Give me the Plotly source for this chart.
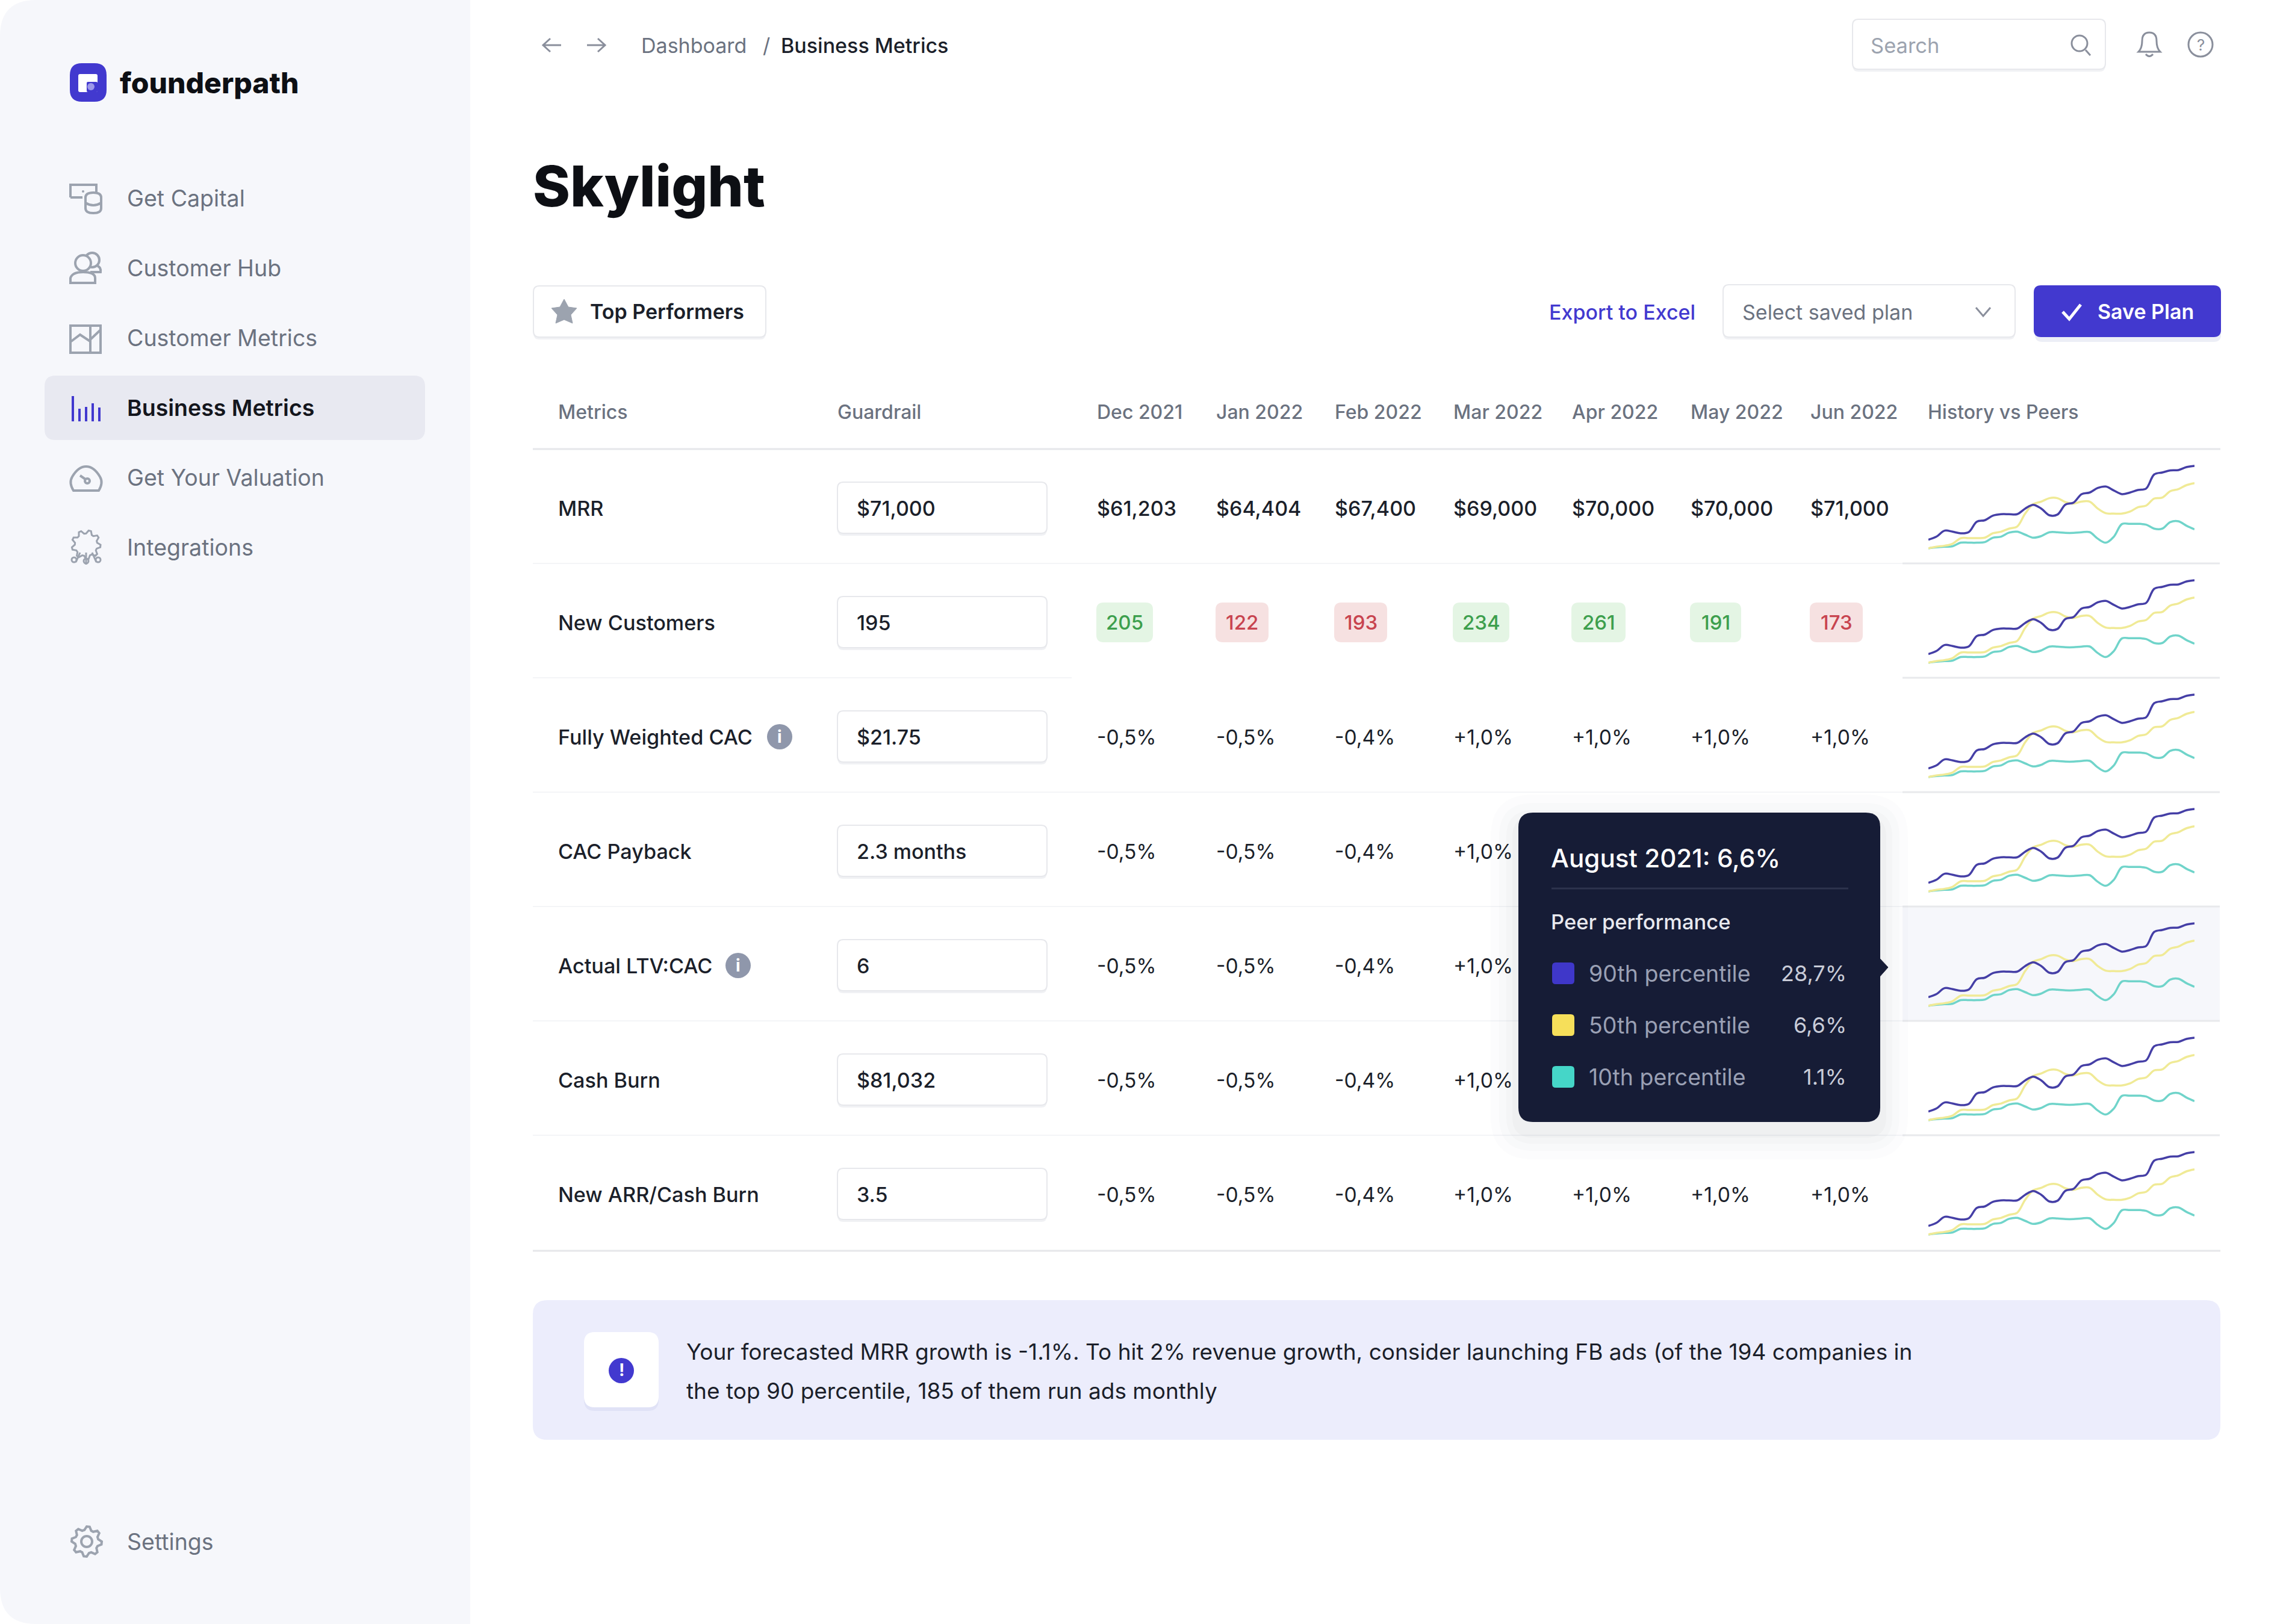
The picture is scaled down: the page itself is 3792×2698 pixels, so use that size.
"""Founderpath "Skylight" business metrics screen, drawn as a single Plotly figure."""

import numpy as np
import plotly.graph_objects as go

WIDTH, HEIGHT = 3792, 2698
FONT = "Inter"

INK = "#1b1f2a"
GREY = "#6b7280"
ICON = "#9ca3af"
INDIGO = "#4239cf"

NAV_ITEMS = ["Get Capital", "Customer Hub", "Customer Metrics", "Business Metrics",
             "Get Your Valuation", "Integrations"]
MONTHS = ["Dec 2021", "Jan 2022", "Feb 2022", "Mar 2022", "Apr 2022", "May 2022", "Jun 2022"]
METRICS = ["MRR", "New Customers", "Fully Weighted CAC", "CAC Payback",
           "Actual LTV:CAC", "Cash Burn", "New ARR/Cash Burn"]
GUARDRAILS = ["$71,000", "195", "$21.75", "2.3 months", "6", "$81,032", "3.5"]
MRR_VALUES = ["$61,203", "$64,404", "$67,400", "$69,000", "$70,000", "$70,000", "$71,000"]
NEW_CUSTOMERS = [205, 122, 193, 234, 261, 191, 173]
NEW_CUSTOMERS_OK = [True, False, False, True, True, True, False]
CHANGES = ["-0,5%", "-0,5%", "-0,4%", "+1,0%", "+1,0%", "+1,0%", "+1,0%"]

# the same sparkline is repeated on every row
P90 = [12.5, 16.3, 23.8, 22.5, 20.5, 22, 35, 36.8, 42.5, 44.3, 44.3, 44.3, 51.3, 56, 51.3, 43, 43.8,
       56.3, 58.8, 69.3, 71.3, 77, 78.8, 73.8, 69.3, 71.3, 74.5, 76.3, 93.8, 96.3, 98.8, 99.3, 103, 104.5]
P50 = [1.8, 3.8, 5, 7.5, 14.3, 14.5, 14.5, 15, 20.5, 22.5, 26.3, 28.8, 45, 56.8, 60, 64.3, 64.3,
       59.3, 57.5, 60, 60, 51.3, 45.5, 45, 45, 47.5, 53, 55, 63.8, 65, 73, 75.5, 80.5, 83]
P10 = [1.8, 3, 3.8, 4.3, 8.8, 8.8, 8.8, 9.5, 15, 16.3, 21.3, 22.5, 18.8, 15, 17, 21.8, 21.8,
       21, 21, 21.8, 22, 13.8, 8.8, 16.3, 32, 32.3, 32.3, 31.3, 26.3, 26.3, 34.5, 35.5, 30, 25.5]

PEER_LABELS = ["90th percentile", "50th percentile", "10th percentile"]
PEER_VALUES = ["28,7%", "6,6%", "1.1%"]
PEER_COLORS = ["#3f37c9", "#f6df5a", "#45d6c8"]
LINE_COLORS = ["#453fa6", "#f0ea96", "#70d4ca"]

NOTE_LINES = [
    "Your forecasted MRR growth is -1.1%. To hit 2% revenue growth, consider launching FB ads (of the 194 companies in",
    "the top 90 percentile, 185 of them run ads monthly",
]

COL_X = [1821, 2019, 2216, 2413, 2610, 2807, 3006]
BADGE_W = [94, 88, 88, 94, 90, 85, 88]
ROW_H = 190
ROW_Y = [844 + ROW_H * i for i in range(7)]
TABLE_L, TABLE_R = 885, 3688
SPARK_L, SPARK_R = 3203, 3645

shapes = []
notes = []


def rr_path(x0, y0, x1, y1, r):
    return (f"M{x0+r},{y0} L{x1-r},{y0} Q{x1},{y0} {x1},{y0+r} L{x1},{y1-r} Q{x1},{y1} {x1-r},{y1} "
            f"L{x0+r},{y1} Q{x0},{y1} {x0},{y1-r} L{x0},{y0+r} Q{x0},{y0} {x0+r},{y0} Z")


def box(x0, y0, x1, y1, r=0, fill="white", line=None, lw=2):
    shapes.append(dict(type="path", path=rr_path(x0, y0, x1, y1, r), fillcolor=fill, layer="below",
                       line=dict(color=line or "rgba(0,0,0,0)", width=lw if line else 0)))


def stroke(path, color=ICON, w=4, fill="rgba(0,0,0,0)"):
    shapes.append(dict(type="path", path=path, fillcolor=fill, layer="below", line=dict(color=color, width=w)))


def dot(cx, cy, r, fill="rgba(0,0,0,0)", line=None, lw=4):
    shapes.append(dict(type="circle", x0=cx - r, x1=cx + r, y0=cy - r, y1=cy + r, fillcolor=fill, layer="below",
                       line=dict(color=line or "rgba(0,0,0,0)", width=lw if line else 0)))


def hline(x0, x1, y, color, w=2):
    shapes.append(dict(type="line", x0=x0, x1=x1, y0=y, y1=y, layer="below", line=dict(color=color, width=w)))


def label(x, y, text, size=34, color=INK, weight=400, anchor="left"):
    notes.append(dict(x=x, y=y, xref="x", yref="y", text=text, showarrow=False, xanchor=anchor, yanchor="middle",
                      borderpad=0, font=dict(family=FONT, size=size, color=color, weight=weight)))


def input_box(x0, y0, x1, y1):
    box(x0, y0 + 4, x1, y1 + 4, 10, "#f0f1f4")
    box(x0, y0, x1, y1, 10, "white", "#e7e8ec", 2)


def gear(cx, cy, r, teeth=8):
    angles = np.linspace(0, 2 * np.pi, teeth * 4, endpoint=False)
    radii = np.tile([r, r, r * 0.78, r * 0.78], teeth)
    pts = [f"{cx + a * np.cos(t):.1f},{cy + a * np.sin(t):.1f}" for a, t in zip(radii, angles)]
    return "M" + " L".join(pts) + " Z"


# page and sidebar
side = "M60,0 L781,0 L781,2698 L60,2698 Q0,2698 0,2638 L0,60 Q0,0 60,0 Z"
shapes.append(dict(type="path", path=side, fillcolor="#f6f7fb", layer="below", line=dict(width=0)))

box(116, 105, 177, 169, 20, INDIGO)
box(130, 123, 162, 153, 3, "white")
box(144, 136, 162, 153, 2, INDIGO)
dot(151, 144, 6, "#9d98ea")
label(198, 137, "founderpath", 48, "#0d0f14", 800)

box(74, 624, 706, 731, 18, "#e8e9f1")
for name, y in zip(NAV_ITEMS, [329, 445, 561, 677, 793, 909]):
    active = name == "Business Metrics"
    label(210, y, name, 37.5, "#14161d" if active else GREY, 600 if active else 400)
label(210, 2561, "Settings", 37.5, GREY)

# sidebar icons
stroke("M117,328 L117,307 L160,307 L160,320 M117,328 L137,328")
dot(138, 318, 2, ICON)
stroke("M142,328 Q142,320 155,320 Q168,320 168,328 L168,346 Q168,354 155,354 Q142,354 142,346 Z M142,337 Q155,345 168,337")
dot(153, 432, 12, line=ICON)
stroke("M150,452 L167,452 Q168,444 162,442", w=4)
dot(138, 437, 13, "#f6f7fb", ICON)
stroke("M117,470 L117,462 Q120,452 138,452 Q158,452 158,462 L158,470 Z", fill="#f6f7fb")
box(117, 541, 167, 586, 0, "rgba(0,0,0,0)", ICON, 4)
stroke("M117,568 L133,556 L148,566 L167,548 M150,541 L150,586")
for x, top in zip([121, 132, 143, 154, 165], [658, 679, 676, 670, 677]):
    shapes.append(dict(type="line", x0=x, x1=x, y0=top, y1=700, layer="below", line=dict(color=INDIGO, width=4)))
stroke("M122,815 Q114,802 120,792 Q130,775 143,775 Q156,775 166,792 Q172,802 164,815 Z")
stroke("M133,790 L143,797")
dot(145, 799, 4, line=ICON)
stroke(gear(143, 905, 24, 9), w=3)
stroke("M126,934 L133,918 M143,938 L143,918 M160,934 L153,918", w=3)
dot(123, 930, 4, line=ICON, lw=3)
dot(143, 932, 4, line=ICON, lw=3)
dot(163, 930, 4, line=ICON, lw=3)
stroke(gear(144, 2561, 25, 8), w=4)
dot(144, 2561, 9, line=ICON)

# top bar
stroke("M932,75 L903,75 M914,64 L902,75 L914,86", "#8a8f9c", 3)
stroke("M975,75 L1004,75 M993,64 L1005,75 L993,86", "#8a8f9c", 3)
label(1064, 75, "Dashboard", 34, GREY)
label(1266, 75, "/", 34, GREY)
label(1296, 75, "Business Metrics", 34, INK, 500)
input_box(3077, 32, 3497, 115)
label(3106, 75, "Search", 34.5, "#9ca3af")
dot(3454, 72, 13, line="#8a8f9c", lw=3)
stroke("M3464,83 L3472,92", "#8a8f9c", 3)
stroke("M3552,86 Q3558,80 3558,68 Q3558,54 3570,54 Q3582,54 3582,68 Q3582,80 3588,86 Z", "#8a8f9c", 3)
stroke("M3564,90 Q3570,97 3576,90", "#8a8f9c", 3)
dot(3655, 74, 20, line="#8a8f9c", lw=3)
label(3655, 74, "?", 26, "#8a8f9c", 400, "center")

label(884, 309, "Skylight", 94, "#0d0f14", 800)

# toolbar
input_box(886, 475, 1272, 560)
stroke("M937,497 L944,510 L958,512 L948,523 L951,537 L937,531 L923,537 L926,523 L916,512 L930,510 Z", ICON, 1, ICON)
label(979, 517, "Top Performers", 34, INK, 600)
label(2572, 518, "Export to Excel", 34, INDIGO, 500)
input_box(2862, 473, 3347, 560)
label(2893, 518, "Select saved plan", 34, GREY)
stroke("M3282,511 L3294,525 L3306,511", "#8a8f9c", 3)
box(3380, 482, 3689, 568, 12, "#eceef6")
box(3378, 474, 3689, 560, 12, INDIGO)
stroke("M3426,518 L3437,530 L3456,506", "white", 5)
label(3483, 517, "Save Plan", 34, "white", 600)

# table header
label(926, 684, "Metrics", 32, GREY, 500)
label(1390, 684, "Guardrail", 32, GREY, 500)
for x, month in zip(COL_X, MONTHS):
    label(x, 684, month, 32, GREY, 500)
label(3201, 684, "History vs Peers", 32, GREY, 500)
hline(TABLE_L, TABLE_R, 746, "#e6e7ea", 3)

# table rows
box(3160, ROW_Y[4] - 98, 3687, ROW_Y[4] + 92, 0, "#f6f7fb")
for i, y in enumerate(ROW_Y):
    bottom = y + 92
    if i == 6:
        hline(TABLE_L, TABLE_R, bottom + 2, "#e6e7ea", 3)
    else:
        hline(TABLE_L, 1780 if i == 1 else 3160, bottom, "#f4f5f7", 2)
        hline(3160, 3687, bottom, "#e8e9ec", 3)
    label(926, y, METRICS[i], 34.2, INK, 500)
    input_box(1391, y - 43, 1739, y + 42)
    label(1422, y, GUARDRAILS[i], 34, INK, 500)

    for j, x in enumerate(COL_X):
        if i == 0:
            label(x, y, MRR_VALUES[j], 34, INK, 500)
        elif i == 1:
            ok = NEW_CUSTOMERS_OK[j]
            w = BADGE_W[j]
            box(x, y - 33, x + w, y + 33, 12, "#e4f5e4" if ok else "#f6e1e1")
            label(x + w / 2, y, str(NEW_CUSTOMERS[j]), 33, "#3d9f4d" if ok else "#c8444f", 500, "center")
        elif not (i in (3, 4, 5) and j > 3):  # the tooltip hides these cells
            label(x, y, CHANGES[j], 33.6, INK, 400)

for x, y in [(1295, ROW_Y[2]), (1226, ROW_Y[4])]:
    dot(x, y, 21, "#8f97ab")
    label(x, y, "i", 28, "white", 700, "center")

# tooltip
for grow, alpha in zip([46, 32, 20, 10], [0.012, 0.016, 0.02, 0.025]):
    box(2522 - grow, 1350 - grow + 16, 3123 + grow, 1864 + grow + 16, 24 + grow, f"rgba(30,35,60,{alpha})")
box(2522, 1350, 3123, 1864, 24, "#161c36")
stroke("M3120,1590 L3136,1607 L3120,1625 Z", "#161c36", 1, "#161c36")
label(2575, 1425, "August 2021: 6,6%", 42.2, "white", 500)
hline(2577, 3070, 1476, "#2d334d", 3)
label(2575, 1531, "Peer performance", 34.5, "#e8e9ef", 500)
for y, name, val, col in zip([1617, 1703, 1789], PEER_LABELS, PEER_VALUES, PEER_COLORS):
    box(2578, y - 18, 2615, y + 18, 6, col)
    label(2638, y, name, 37.5, "#9aa0b4")
    label(3068, y, val, 36, "#c9ccd8", 400, "right")

# note banner
box(885, 2160, 3688, 2392, 24, "#ecedfc")
box(970, 2219, 1094, 2344, 18, "#e0e2f6")
box(970, 2213, 1094, 2338, 18, "white")
dot(1032, 2277, 21, INDIGO)
label(1032, 2276, "!", 28, "white", 700, "center")
label(1139, 2245, NOTE_LINES[0], 37, INK)
label(1139, 2310, NOTE_LINES[1], 37, INK)

# sparklines live on their own small axes, one pair per table row
fig = go.Figure()
layout_axes = {
    "xaxis": dict(range=[0, WIDTH], domain=[0, 1], visible=False, fixedrange=True, anchor="y"),
    "yaxis": dict(range=[HEIGHT, 0], domain=[0, 1], visible=False, fixedrange=True, anchor="x"),
}
steps = list(range(len(P90)))
for i in range(7):
    n = i + 2
    base = 913.3 + ROW_H * i
    top = base - 141.3
    layout_axes[f"xaxis{n}"] = dict(range=[0, steps[-1]], domain=[SPARK_L / WIDTH, SPARK_R / WIDTH],
                                    visible=False, fixedrange=True, anchor=f"y{n}")
    layout_axes[f"yaxis{n}"] = dict(range=[0, 106], domain=[1 - base / HEIGHT, 1 - top / HEIGHT],
                                    visible=False, fixedrange=True, anchor=f"x{n}")
    for series, color in zip([P10, P50, P90], [LINE_COLORS[2], LINE_COLORS[1], LINE_COLORS[0]]):
        fig.add_trace(go.Scatter(x=steps, y=series, mode="lines", xaxis=f"x{n}", yaxis=f"y{n}",
                                 line=dict(color=color, width=3.5, shape="spline", smoothing=1),
                                 cliponaxis=False, showlegend=False, hoverinfo="skip"))

fig.update_layout(
    width=WIDTH, height=HEIGHT,
    margin=dict(l=0, r=0, t=0, b=0),
    paper_bgcolor="white", plot_bgcolor="rgba(0,0,0,0)",
    showlegend=False,
    shapes=shapes, annotations=notes,
    **layout_axes,
)
# browsers add a default 8px body margin, which would push the whole page off the reference
fig.write_html("out.html", config=dict(displayModeBar=False),
               post_script="document.body.style.margin='0';")
